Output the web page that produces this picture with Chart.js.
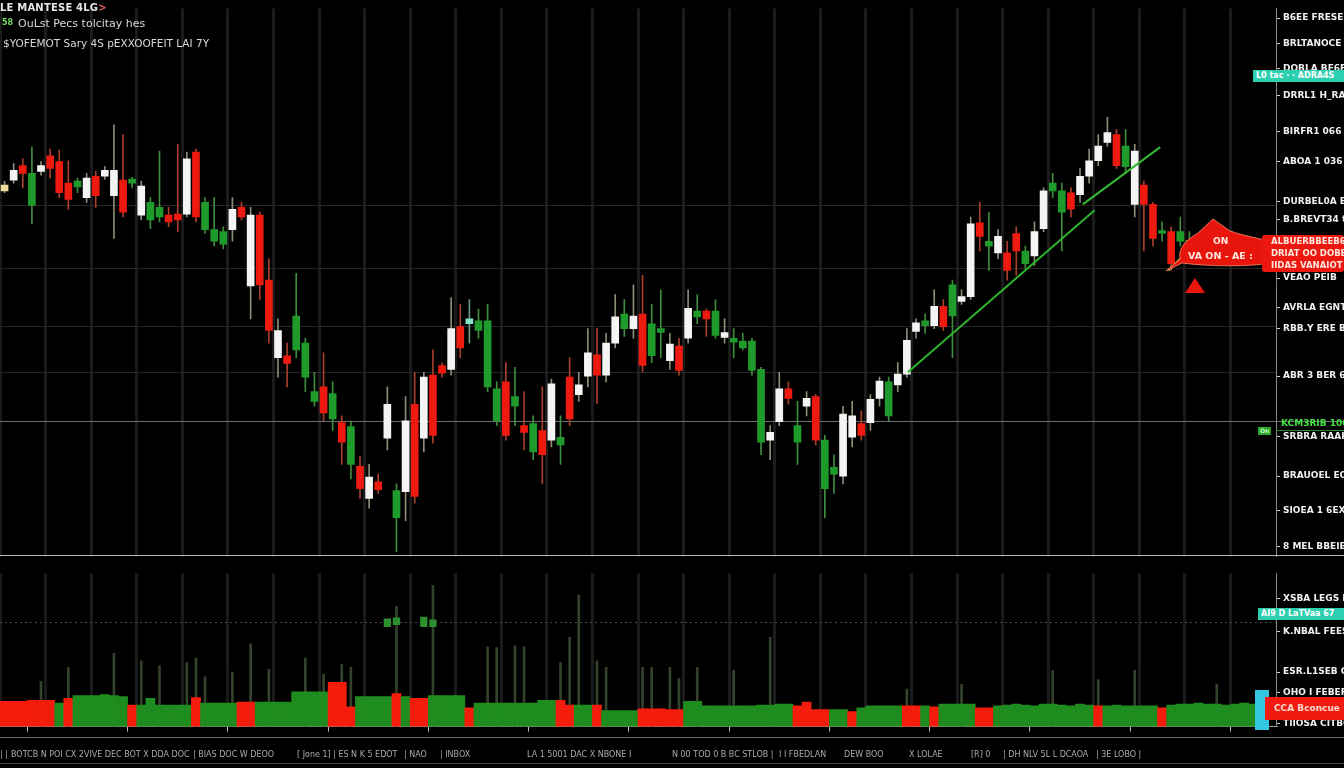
<!DOCTYPE html>
<html><head><meta charset="utf-8">
<script src="https://cdn.jsdelivr.net/npm/chart.js@4.4.1/dist/chart.umd.min.js"></script>
<style>
html,body{margin:0;padding:0;background:#000;width:1344px;height:768px;overflow:hidden;}
#wrap{position:relative;width:1344px;height:768px;background:#000;}
canvas{position:absolute;left:0;}
.t{position:absolute;white-space:nowrap;font-family:"DejaVu Sans",sans-serif;color:#e6e6e6;line-height:1;}
.b{font-weight:bold;}
.ln{position:absolute;left:0;width:1344px;height:1px;}
</style></head><body><div id="wrap">
<canvas id="price" width="1344" height="565" style="top:0"></canvas>
<canvas id="vol" width="1344" height="170" style="top:565px"></canvas>

<div class="t b" style="left:0px;top:3px;font-size:10px;letter-spacing:0.2px">LE MANTESE 4LG<span style="color:#e05a5a">&gt;</span></div>
<div class="t b" style="left:2px;top:19px;font-size:8px;color:#7ad86a">58</div>
<div class="t" style="left:18px;top:18px;font-size:11px;color:#d8d8d8">OuLst Pecs tolcitay hes</div>
<div class="t" style="left:3px;top:38px;font-size:10.5px;color:#d8d8d8">$YOFEMOT Sary 4S pEXXOOFEIT LAI 7Y</div>

<div class="t b" style="left:1253px;top:70px;width:91px;height:12px;background:#2ccfb0;font-size:8px;color:#fff;padding:2px 0 0 3px;box-sizing:border-box">L0 tac · · ADRA4S</div>
<div class="t b" style="left:1258px;top:608px;width:86px;height:12px;background:#2ccfb0;font-size:8px;color:#fff;padding:2px 0 0 3px;box-sizing:border-box">AI9 D  LaTVaa 67</div>
<div class="t b" style="left:1258px;top:427px;width:13px;height:8px;background:#2aa82a;font-size:6px;color:#cfc;padding:1px 0 0 2px;box-sizing:border-box">On</div>
<div class="t b" style="left:1281px;top:419px;font-size:9px;color:#45e045">KCM3RIB 100</div>
<div class="ln" style="left:1276px;width:68px;top:430px;background:#2a8a2a"></div>
<div class="t" style="left:1255px;top:690px;width:14px;height:40px;background:#33c6e0"></div>
<div class="t b" style="left:1265px;top:697px;width:79px;height:23px;background:#f01a10;font-size:9px;color:#ffd6c8;padding:7px 0 0 9px;box-sizing:border-box">CCA Bconcue</div>

<svg style="position:absolute;left:0;top:0" width="1344" height="768">
<path d="M1166,271 L1180,259 C1178,248 1186,240 1198,233 L1213,219 L1230,231 C1245,236 1258,238 1264,240 L1264,264 C1240,267 1205,266 1182,263 Z" fill="#e8150d" stroke="#ff8a70" stroke-width="0.8"/>
<rect x="1262" y="235" width="82" height="37" rx="3" fill="#ec170e"/>
<polygon points="1185,293 1195,278 1205,293" fill="#e8150d"/>
</svg>
<div class="t b" style="left:1213px;top:237px;font-size:9px;color:#ffe8e0">ON</div>
<div class="t b" style="left:1188px;top:251px;font-size:9.5px;color:#ffe8e0">VA ON - AE :</div>
<div class="t b" style="left:1271px;top:237px;font-size:8.5px;color:#ffe8e0">ALBUERBBEEB6</div>
<div class="t b" style="left:1271px;top:249px;font-size:8.5px;color:#ffe8e0">DRIAT OO DOBEEVT</div>
<div class="t b" style="left:1271px;top:261px;font-size:8.5px;color:#ffe8e0">IIDAS VANAIOT</div>

<div class="ln" style="top:737px;background:#6a6a6a"></div>
<div class="ln" style="top:763px;background:#4a4a4a"></div>
<div class="t" style="left:0px;top:751px;font-size:8px;color:#aaa">| |</div>
<div class="t" style="left:11px;top:751px;font-size:8px;color:#aaa">BOTCB  N POI CX 2VIVE  DEC BOT  X  DDA DOC</div>
<div class="t" style="left:193px;top:751px;font-size:8px;color:#aaa">| BIAS DOC W DEOO</div>
<div class="t" style="left:297px;top:751px;font-size:8px;color:#aaa">[ Jone 1] | ES N K 5 EDOT</div>
<div class="t" style="left:404px;top:751px;font-size:8px;color:#aaa">| NAO</div>
<div class="t" style="left:440px;top:751px;font-size:8px;color:#aaa">| INBOX</div>
<div class="t" style="left:527px;top:751px;font-size:8px;color:#aaa">LA 1 5001 DAC X  NBONE I</div>
<div class="t" style="left:672px;top:751px;font-size:8px;color:#aaa">N 00 TOD 0 B BC STLOB |</div>
<div class="t" style="left:779px;top:751px;font-size:8px;color:#aaa">I I FBEDLAN</div>
<div class="t" style="left:844px;top:751px;font-size:8px;color:#aaa">DEW BOO</div>
<div class="t" style="left:909px;top:751px;font-size:8px;color:#aaa">X LOLAE</div>
<div class="t" style="left:971px;top:751px;font-size:8px;color:#aaa">[R] 0</div>
<div class="t" style="left:1003px;top:751px;font-size:8px;color:#aaa">| DH NLV 5L L DCAOA</div>
<div class="t" style="left:1096px;top:751px;font-size:8px;color:#aaa">| 3E LOBO |</div>
</div>
<script>
// ---------- DATA ----------
const categories = Array.from({length: 140}, (_, i) => i);

const candleOpen = [1377,1388,1403,1362,1397,1413,1407,1385,1381,1370,
1392,1392,1372,1388,1385,1352,1347,1350,1352,1353,
1353,1417,1337,1325,1322,1337,1360,1279,1352,1285,
1205,1207,1213,1185,1160,1175,1142,1138,1095,1093,
1060,1077,1122,1040,1067,1157,1122,1187,1197,1193,
1237,1240,1233,1175,1140,1180,1155,1135,1108,1130,
1120,1115,1185,1167,1186,1208,1187,1220,1235,1235,
1250,1207,1231,1202,1217,1225,1247,1253,1228,1226,
1221,1215,1192,1118,1120,1139,1173,1118,1155,1165,
1070,1085,1083,1123,1137,1138,1163,1145,1177,1188,
1232,1238,1238,1258,1248,1263,1268,1344,1320,1313,
1313,1333,1302,1310,1338,1377,1355,1375,1373,1392,
1408,1427,1435,1402,1363,1383,1363,1336,1335,1325,
1320,null,null,null,null,null,null,null,null,null];

const candleClose = [1383,1398,1395,1395,1403,1400,1375,1368,1387,1390,
1372,1398,1398,1355,1389,1382,1365,1360,1345,1347,
1410,1350,1365,1337,1335,1358,1350,1352,1280,1233,
1233,1199,1248,1220,1170,1148,1168,1118,1134,1070,
1082,1069,1157,1068,1140,1062,1185,1125,1189,1235,
1215,1245,1243,1243,1173,1125,1165,1128,1137,1105,
1178,1123,1142,1177,1210,1187,1220,1247,1250,1248,
1197,1240,1235,1219,1192,1256,1253,1245,1253,1231,
1225,1222,1222,1193,1128,1173,1163,1135,1163,1120,
1120,1092,1147,1145,1125,1162,1181,1180,1188,1223,
1241,1243,1258,1237,1280,1268,1343,1330,1325,1330,
1295,1315,1315,1335,1377,1385,1377,1358,1392,1408,
1423,1437,1403,1423,1418,1363,1328,1333,1302,1335,
1326,null,null,null,null,null,null,null,null,null];

const candleHigh = [1387,1405,1410,1422,1407,1420,1419,1408,1390,1395,
1397,1402,1445,1435,1391,1387,1370,1418,1360,1425,
1417,1420,1370,1370,1340,1370,1365,1360,1355,1307,
1245,1220,1292,1225,1190,1210,1180,1145,1140,1103,
1095,1085,1175,1075,1165,1190,1190,1213,1200,1267,
1260,1265,1255,1260,1180,1200,1195,1170,1145,1175,
1183,1145,1205,1190,1235,1235,1230,1270,1265,1280,
1290,1260,1275,1230,1225,1275,1270,1255,1265,1245,
1235,1230,1225,1195,1135,1190,1180,1160,1170,1167,
1125,1105,1155,1160,1150,1167,1185,1185,1200,1235,
1245,1250,1275,1265,1285,1275,1350,1365,1355,1337,
1325,1340,1320,1345,1380,1395,1385,1380,1400,1420,
1435,1453,1440,1440,1425,1387,1365,1345,1340,1350,
1335,null,null,null,null,null,null,null,null,null];

const candleLow = [1375,1385,1380,1343,1393,1390,1370,1358,1375,1365,
1360,1389,1328,1350,1380,1347,1338,1345,1340,1335,
1350,1345,1333,1320,1317,1325,1347,1245,1265,1220,
1185,1175,1205,1170,1155,1140,1130,1095,1080,1060,
1050,1065,1110,1005,1037,1055,1108,1117,1185,1187,
1205,1220,1225,1170,1135,1120,1135,1110,1100,1075,
1113,1095,1135,1160,1175,1158,1180,1215,1227,1225,
1190,1200,1205,1193,1187,1220,1240,1227,1225,1220,
1205,1213,1187,1105,1100,1135,1157,1095,1145,1115,
1040,1065,1075,1113,1120,1130,1155,1140,1170,1185,
1225,1230,1235,1233,1205,1260,1265,1315,1295,1307,
1285,1290,1297,1300,1335,1370,1315,1350,1365,1385,
1403,1423,1400,1395,1350,1315,1320,1325,1295,1320,
1315,null,null,null,null,null,null,null,null,null];

const candleKind = ['y','w','r','g','w','r','r','r','g','w',
'r','w','w','r','g','w','g','g','r','r',
'w','r','g','g','g','w','r','w','r','r',
'w','r','g','g','g','r','g','r','g','r',
'w','r','w','g','w','r','w','r','r','w',
'r','t','g','g','g','r','g','r','g','r',
'w','g','r','w','w','r','w','w','g','w',
'r','g','g','w','r','w','g','r','g','w',
'g','g','g','g','w','w','r','g','w','r',
'g','g','w','w','r','w','w','g','w','w',
'w','g','w','r','g','w','w','r','g','w',
'r','r','g','w','w','g','g','r','w','w',
'w','w','r','g','w','r','r','g','r','g',
'g',null,null,null,null,null,null,null,null,null];

const volume = [27,27,27,28,28,28,25,30,33,33,
33,34,33,32,23,23,30,23,23,23,
23,31,25,25,25,25,26,26,26,26,
26,26,37,37,37,37,47,47,21,32,
32,32,32,35,32,30,30,33,33,33,
33,20,25,25,25,25,25,25,25,28,
28,28,23,23,23,23,17,17,17,17,
19,19,19,18,18,27,27,22,22,22,
22,22,22,23,23,24,24,22,26,18,
18,18,18,16,20,22,22,22,22,22,
22,22,21,24,24,24,24,20,20,22,
23,24,23,22,24,24,23,22,24,23,
22,22,23,22,22,22,22,20,23,24,
24,25,24,24,23,24,25,24,null,null];

const volumeKind = ['r','r','r','r','r','r','g','r','g','g',
'g','g','g','g','r','g','g','g','g','g',
'g','r','g','g','g','g','r','r','g','g',
'g','g','g','g','g','g','r','r','r','g',
'g','g','g','r','g','r','r','g','g','g',
'g','r','g','g','g','g','g','g','g','g',
'g','r','r','g','g','r','g','g','g','g',
'r','r','r','r','r','g','g','g','g','g',
'g','g','g','g','g','g','g','r','r','r',
'r','g','g','r','g','g','g','g','g','r',
'r','g','r','g','g','g','g','r','r','g',
'g','g','g','g','g','g','g','g','g','g',
'r','g','g','g','g','g','g','r','g','g',
'g','g','g','g','g','g','g','g',null,null];

const volumeSpikeSlot = [4,7,12,15,17,20,21,22,25,27,29,33,35,37,38,43,47,53,54,56,57,61,62,63,65,66,70,71,73,74,76,80,84,99,105,115,120,124,133];
const volumeSpikeHeight = [48,63,78,70,65,68,73,53,58,88,61,73,56,66,63,128,150,85,84,86,85,68,95,140,70,63,63,63,63,51,63,60,95,40,45,60,50,60,45];

const clusterSlot = [42,43,46,47];
const clusterBottom = [106,108,106,106];
const clusterTop = [115,116,117,114];

const trendLower = [{x: 99.1, y: 1190}, {x: 119.6, y: 1357}];
const trendUpper = [{x: 118.3, y: 1363}, {x: 126.8, y: 1422}];
const trendPointer = [{x: 127.7, y: 1295}, {x: 129.0, y: 1307}];

const priceFaintLevels = [1362, 1297, 1238, 1190];
const priceKeyLevels = [1140, 1002];
const volumeDottedLevel = 111;

const priceTickValues = [1555,1529,1503,1475,1438,1407,1366,1347,1287,1257,1235,1186,1124,1083,1047,1010];
const priceTickLabels = ['B6EE FRESERA','BRLTANOCE','DOBLA BF6F89','DRRL1 H_RACC','BIRFR1 066 DEC','ABOA 1 036 DOE','DURBEL0A EEO','B.BREVT34 te.ac','VEAO PEIB','AVRLA EGNT ES','RBB.Y ERE BOO','ABR 3 BER 6OO','SRBRA RAAHIVS','BRAUOEL EOT','SIOEA 1 6EX EFA','8 MEL BBEIER'];
const volumeTickValues = [136,101,58,36,3];
const volumeTickLabels = ['XSBA LEGS ECU','K.NBAL FEESIUR','ESR.L1SEB CEO','OHO I FEBER','TIIOSA CITBO--'];

// ---------- STYLE ----------
const bodyColor = {w:'#f4f4f4', r:'#ee1a10', g:'#1f9b2b', y:'#f0dc9c', t:'#86e3c8'};
const wickColor = {w:'#8c8c78', r:'#a8402c', g:'#3f8c3f', y:'#8c8c78', t:'#6a9a80'};
const volColor = {r:'#f41c0c', g:'#1f8c1f'};
const gridColor = '#1b1b1b';
const fontFam = '"DejaVu Sans", sans-serif';

Chart.defaults.font.family = fontFam;
Chart.defaults.color = '#eee';

const levelPlugin = {
  id: 'levels',
  beforeDatasetsDraw(chart, args, opts) {
    const {ctx, chartArea, scales} = chart;
    (opts.lines || []).forEach(l => {
      const y = Math.round(scales.y.getPixelForValue(l.value)) + 0.5;
      ctx.save();
      ctx.strokeStyle = l.color; ctx.lineWidth = l.width || 1;
      ctx.setLineDash(l.dash || []);
      ctx.beginPath(); ctx.moveTo(chartArea.left, y);
      ctx.lineTo(l.full ? chart.width : chartArea.right, y); ctx.stroke();
      ctx.restore();
    });
  }
};

const bodies = candleOpen.map((o, i) => o == null ? null : [o, candleClose[i]]);
const wicks = candleLow.map((l, i) => l == null ? null : [l, candleHigh[i]]);

const spikes = categories.map(() => null);
volumeSpikeSlot.forEach((s, k) => { spikes[s] = [0, volumeSpikeHeight[k]]; });
const clusters = categories.map(() => null);
clusterSlot.forEach((s, k) => { clusters[s] = [clusterBottom[k], clusterTop[k]]; });

const yAxisCommon = (min, max, vals, labels) => ({
  position: 'right', min, max,
  afterFit: s => { s.width = 68; },
  afterBuildTicks: s => { s.ticks = vals.map(v => ({value: v})); },
  ticks: {autoSkip: false, padding: 3, color: '#f0f0f0',
    font: {family: fontFam, size: 9, weight: 'bold'},
    callback: (v, i) => labels[i]},
  grid: {drawOnChartArea: false, drawTicks: true, tickLength: 4, tickColor: '#cfcfcf'},
  border: {display: true, color: '#8a8a8a', dash: [2, 2], width: 1}
});

new Chart(document.getElementById('price'), {
  type: 'bar',
  data: {
    labels: categories,
    datasets: [
      {type: 'line', data: trendLower, xAxisID: 'xl', yAxisID: 'y', borderColor: '#2cb52c', borderWidth: 2, pointRadius: 0, order: 0},
      {type: 'line', data: trendUpper, xAxisID: 'xl', yAxisID: 'y', borderColor: '#34b834', borderWidth: 2, pointRadius: 0, order: 0},
      {type: 'line', data: trendPointer, xAxisID: 'xl', yAxisID: 'y', borderColor: '#9acd32', borderWidth: 2, pointRadius: 0, order: 0},
      {data: bodies, backgroundColor: candleKind.map(k => bodyColor[k]), barThickness: 7, grouped: false, minBarLength: 2, order: 1, xAxisID: 'x', yAxisID: 'y'},
      {data: wicks, backgroundColor: candleKind.map(k => wickColor[k]), barThickness: 1, grouped: false, order: 2, xAxisID: 'x', yAxisID: 'y'}
    ]
  },
  options: {
    responsive: false, animation: false, devicePixelRatio: 1,
    layout: {padding: 0, autoPadding: false},
    plugins: {legend: {display: false}, tooltip: {enabled: false},
      levels: {lines: [
        ...priceFaintLevels.map(v => ({value: v, color: '#262626'})),
        {value: priceKeyLevels[0], color: '#6e6e6e', full: true},
        {value: priceKeyLevels[1], color: '#b8b8b8', full: true}
      ]}},
    scales: {
      x: {type: 'category', offset: true,
        afterFit: s => { s.height = 0; },
        ticks: {display: false},
        grid: {drawTicks: false, lineWidth: 3, color: c => c.index % 5 === 0 ? gridColor : 'transparent'},
        border: {display: false}},
      xl: {type: 'linear', axis: 'x', min: -0.5, max: 139.5, offset: false, display: false},
      y: yAxisCommon(1000, 1565, priceTickValues, priceTickLabels)
    }
  },
  plugins: [levelPlugin]
});

new Chart(document.getElementById('vol'), {
  type: 'bar',
  data: {
    labels: categories,
    datasets: [
      {data: clusters, backgroundColor: '#2e8f2e', barPercentage: 0.8, categoryPercentage: 1, grouped: false, order: 1},
      {data: volume, backgroundColor: volumeKind.map(k => volColor[k]), barPercentage: 1, categoryPercentage: 1, grouped: false, borderWidth: 0, order: 2},
      {data: spikes, backgroundColor: '#33422b', barThickness: 2, grouped: false, order: 3}
    ]
  },
  options: {
    responsive: false, animation: false, devicePixelRatio: 1,
    layout: {padding: 0, autoPadding: false},
    plugins: {legend: {display: false}, tooltip: {enabled: false},
      levels: {lines: [{value: volumeDottedLevel, color: '#4a4a4a', dash: [2, 3]}]}},
    scales: {
      x: {type: 'category', offset: true,
        afterFit: s => { s.height = 7; },
        ticks: {display: false},
        grid: {drawTicks: true, tickLength: 5, lineWidth: 3,
          color: c => c.index % 5 === 0 ? gridColor : 'transparent',
          tickColor: c => c.index % 11 === 3 ? '#bdbdbd' : 'transparent', tickWidth: 1},
        border: {display: true, color: '#9a9a9a', width: 1}},
      y: yAxisCommon(0, 163, volumeTickValues, volumeTickLabels)
    }
  },
  plugins: [levelPlugin]
});
</script>
</body></html>
